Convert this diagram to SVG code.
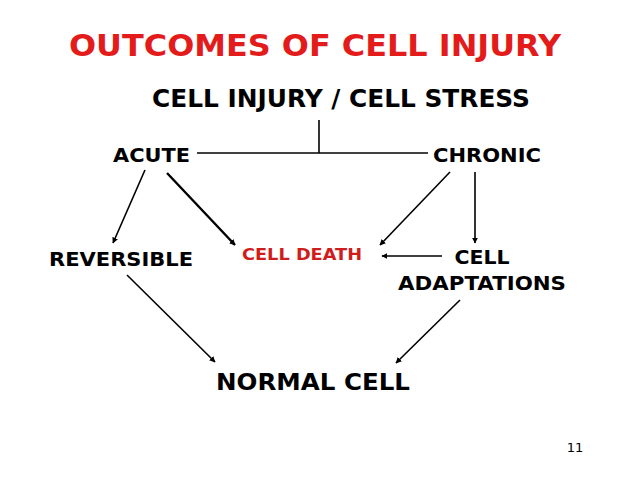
<svg xmlns="http://www.w3.org/2000/svg" width="638" height="479" viewBox="0 0 638 479">
<defs>
<style>
text{font-family:"DejaVu Sans","Liberation Sans",sans-serif;font-weight:bold;fill:#000}
.red{fill:#e31b1b}
line{stroke:#000;stroke-width:1.6}
.a{marker-end:url(#ah)}
</style>
<marker id="ah" viewBox="0 0 10 10" refX="9" refY="5" markerWidth="6" markerHeight="6" orient="auto" markerUnits="userSpaceOnUse"><path d="M0,0 L10,5 L0,10 z" fill="#000"/></marker>
</defs>
<rect width="638" height="479" fill="#fff"/>
<text id="title" class="red" x="315" y="56" font-size="31" text-anchor="middle" textLength="492" lengthAdjust="spacingAndGlyphs">OUTCOMES OF CELL INJURY</text>
<g id="stress"><text x="341" y="107" font-size="24" text-anchor="middle" textLength="378" lengthAdjust="spacingAndGlyphs">CELL INJURY / CELL STRESS</text></g>
<g id="acute"><text x="113" y="162" font-size="20" textLength="77" lengthAdjust="spacingAndGlyphs">ACUTE</text></g>
<g id="chronic"><text x="433" y="162" font-size="20" textLength="108" lengthAdjust="spacingAndGlyphs">CHRONIC</text></g>
<g id="reversible"><text x="49" y="266" font-size="20" textLength="144" lengthAdjust="spacingAndGlyphs">REVERSIBLE</text></g>
<g id="death"><text x="242" y="260" font-size="16" textLength="120" lengthAdjust="spacingAndGlyphs" style="fill:#d01c1c">CELL DEATH</text></g>
<g id="adapt"><text x="482" y="264" font-size="20" text-anchor="middle" textLength="55" lengthAdjust="spacingAndGlyphs">CELL</text><text x="482" y="290" font-size="20" text-anchor="middle" textLength="168" lengthAdjust="spacingAndGlyphs">ADAPTATIONS</text></g>
<g id="normal"><text x="313" y="390" font-size="23" text-anchor="middle" textLength="194" lengthAdjust="spacingAndGlyphs">NORMAL CELL</text></g>
<text x="575" y="452" font-size="13" text-anchor="middle" style="font-weight:normal">11</text>
<g id="connectors">
<line x1="319" y1="120" x2="319" y2="153"/>
<line x1="197" y1="153" x2="428" y2="153"/>
<line class="a" x1="145" y1="170" x2="113" y2="243"/>
<line class="a" x1="167" y1="173" x2="235" y2="245" style="stroke-width:2.4"/>
<line class="a" x1="450" y1="172" x2="380" y2="245"/>
<line class="a" x1="475" y1="172" x2="475" y2="243"/>
<line class="a" x1="442" y1="256" x2="382" y2="256"/>
<line class="a" x1="127" y1="275" x2="215" y2="362"/>
<line class="a" x1="460" y1="300" x2="396" y2="363"/>
</g>
</svg>
